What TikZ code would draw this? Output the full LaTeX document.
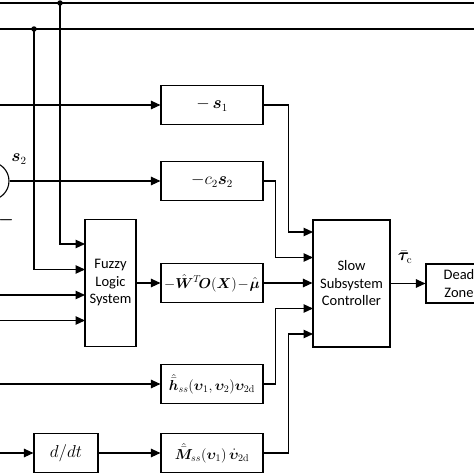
\documentclass[tikz,border=0pt]{standalone}
\usepackage[no-math]{fontspec}
\setmainfont{Carlito}
\usepackage{amsmath}
\usepackage{bm}
\usetikzlibrary{arrows.meta,calc}

\tikzset{
  block/.style={draw=black, line width=1.1pt, minimum height=39pt, inner sep=1pt, font=\fontsize{16}{18}\selectfont},
  txtblock/.style={block, align=center, font=\fontsize{14.5}{17.5}\selectfont},
  wire/.style={line width=1.1pt},
  arr/.style={wire, -{Triangle[length=9.5pt,width=8.5pt]}},
  bigdot/.style={circle, fill=black, inner sep=0pt, minimum size=5.5pt},
  smalldot/.style={circle, fill=black, inner sep=0pt, minimum size=3pt},
}

\begin{document}
\begin{tikzpicture}[x=1pt, y=-1pt]
    \useasboundingbox (0,0) rectangle (474,474);
    \clip (0,0) rectangle (474,474);
    
    \node[block, minimum width=102pt] (ms1) at (212,105) {$-\,\bm{s}_1$};
    
    \node[block, minimum width=102pt] (mcs) at (212,181) {$-c_2\bm{s}_2$};
    
    \node[txtblock, minimum width=51pt, minimum height=127pt] (fls) at (110.5,283) {Fuzzy\\Logic\\System};
    
    \node[block, minimum width=102pt, font=\fontsize{14}{16}\selectfont] (wox) at (212,283) {$-\hat{\bm{W}}^{T}\!\bm{O}(\bm{X})\!-\!\hat{\bm{\mu}}$};
    
    \node[block, minimum width=102pt, font=\fontsize{14}{16}\selectfont] (hss) at (212,384) {$\hat{\bar{\bm{h}}}_{ss}(\bm{\upsilon}_1,\bm{\upsilon}_2)\bm{\upsilon}_{2\mathrm{d}}$};
    
    \node[block, minimum width=64pt] (ddt) at (66,453) {$d/dt$};
    
    \node[block, minimum width=102pt, font=\fontsize{14}{16}\selectfont] (mss) at (212,453) {$\hat{\bar{\bm{M}}}_{ss}(\bm{\upsilon}_1)\,\dot{\bm{\upsilon}}_{2\mathrm{d}}$};
    
    \node[txtblock, minimum width=77pt, minimum height=127pt] (ssc) at (351.5,283.5) {Slow\\Subsystem\\Controller};
    
    \node[txtblock, minimum width=66pt] (dz) at (459,283.5) {Dead\\Zone};
    
    \node[circle, draw=black, line width=1.1pt, minimum size=38pt] (sum) at (-10,181) {};
    
    \node[font=\fontsize{16}{18}\selectfont] (s2lbl) at (19,159) {$\bm{s}_2$};
    
    \node[font=\fontsize{16}{18}\selectfont, inner sep=0pt] (minus) at (6,220) {$\bm{-}$};
    
    \node[font=\fontsize{16}{18}\selectfont] (tau) at (405,257) {$\bar{\bm{\tau}}_{\mathrm{c}}$};
    
    \coordinate (t1l) at (0,3);
    \coordinate (t1r) at (474,3);
    \coordinate (t2l) at (0,29);
    \coordinate (t2r) at (474,29);
    \coordinate (j1) at (60,3);
    \coordinate (j2) at (34,29);
    
    \coordinate (fin1) at (85,244);
    \coordinate (fin2) at (85,269.5);
    \coordinate (fin3) at (85,295);
    \coordinate (fin4) at (85,320.5);
    \coordinate (l3) at (0,295);
    \coordinate (l4) at (0,320.5);
    
    \coordinate (l1) at (0,105);
    \coordinate (l5) at (0,384);
    \coordinate (l6) at (0,453);
    
    \coordinate (cin1) at (313,232);
    \coordinate (cin2) at (313,257.5);
    \coordinate (cin4) at (313,308.5);
    \coordinate (cin5) at (313,334);
    
    \draw[wire] (t1l) -- (t1r);
    \draw[wire] (t2l) -- (t2r);
    
    \draw[arr] (j1) |- (fin1);
    \draw[arr] (j2) |- (fin2);
    \draw[arr] (l3) -- (fin3);
    \draw[arr] (l4) -- (fin4);
    
    \draw[arr] (l1) -- (ms1.west);
    \draw[arr] (sum.east) -- (mcs.west);
    \draw[arr] (fls.east) -- (wox.west);
    \draw[arr] (l5) -- (hss.west);
    \draw[arr] (l6) -- (ddt.west);
    \draw[arr] (ddt.east) -- (mss.west);
    
    \draw[arr] (ms1.east) -- ++(25,0) |- (cin1);
    \draw[arr] (mcs.east) -- ++(12,0) |- (cin2);
    \draw[arr] (wox.east) -- (wox.east -| ssc.west);
    \draw[arr] (hss.east) -- ++(12,0) |- (cin4);
    \draw[arr] (mss.east) -- ++(25,0) |- (cin5);
    
    \draw[arr] (ssc.east) -- (ssc.east -| dz.west);
    
    \node[bigdot] (d1) at (j1) {};
    \node[bigdot] (d2) at (j2) {};
    \node[smalldot] (d3) at (60,29) {};
    \node[smalldot] (d4) at (34,105) {};
    \node[smalldot] (d5) at (60,105) {};
    \node[smalldot] (d6) at (34,181) {};
    \node[smalldot] (d7) at (60,181) {};
    
\end{tikzpicture}
\end{document}
